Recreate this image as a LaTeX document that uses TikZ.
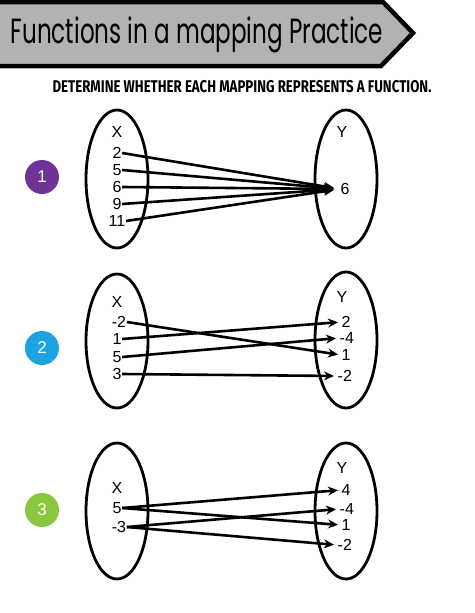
\documentclass[tikz,border=0pt]{standalone}
\usepackage{fontspec}
\setmainfont{Liberation Sans}
\newfontfamily\titolofont{Poppins}
\newfontfamily\consegnafont{Fira Sans}
\usetikzlibrary{arrows.meta}
\definecolor{grigiobanner}{RGB}{178,178,178}
\definecolor{viola}{RGB}{112,52,150}
\definecolor{azzurro}{RGB}{28,164,226}
\definecolor{verde}{RGB}{139,198,63}
\tikzset{
  valore/.style={inner sep=0.5pt, font=\fontsize{16}{16}\selectfont},
  freccia/.style={-{Stealth[length=10pt,width=9pt]}, line width=2.6pt, shorten >=3pt},
  numero/.style={circle, inner sep=0pt, minimum size=34pt, text=white, font=\fontsize{17}{17}\selectfont},
  insieme/.style={line width=2.8pt}
}
\begin{document}
\begin{tikzpicture}[x=1pt,y=-1pt]
    \useasboundingbox (0,0) rectangle (474,613);

    % Banner del titolo
    \draw[fill=grigiobanner, line width=4.5pt, line join=miter]
    (-5,2) -- (383,2) -- (413,33) -- (381,66) -- (-5,66) -- cycle;
    \node (titolo) at (197,35) {\titolofont\fontsize{35}{35}\selectfont\scalebox{0.66}[1]{Functions in a mapping Practice}};

    % Consegna
    \node (consegna) at (242,87) {\consegnafont\bfseries\fontsize{17}{17}\selectfont\scalebox{0.78}[1]{DETERMINE WHETHER EACH MAPPING REPRESENTS A FUNCTION.}};

    % Prima mappatura
    \node[numero, fill=viola] (n1) at (42,177) {1};
    \draw[insieme] (117,179) ellipse [x radius=31, y radius=69];
    \draw[insieme] (346,179) ellipse [x radius=31, y radius=69];
    \node[valore] (x1) at (117,132) {X};
    \node[valore] (y1) at (342,132) {Y};
    \foreach \v [count=\i] in {2,5,6,9,11}
        \node[valore] (a\i) at (117,136+17*\i) {\v};
    \node[valore] (b1) at (345,189) {6};
    \foreach \i in {1,...,5}
        \draw[freccia, shorten >=6pt] (a\i.east) -- (b1.west);

    % Seconda mappatura
    \node[numero, fill=azzurro] (n2) at (42,348) {2};
    \draw[insieme] (117,341) ellipse [x radius=31, y radius=67];
    \draw[insieme] (346,340) ellipse [x radius=31, y radius=68];
    \node[valore] (x2) at (117,302) {X};
    \node[valore] (y2) at (342,297) {Y};
    \node[valore] (c1) at (119,322) {-2};
    \node[valore] (c2) at (117,339) {1};
    \node[valore] (c3) at (117,357) {5};
    \node[valore] (c4) at (117,374) {3};
    \node[valore, anchor=west] (d1) at (341,322) {2};
    \node[valore, anchor=west] (d2) at (339,338) {-4};
    \node[valore, anchor=west] (d3) at (341,355) {1};
    \node[valore, anchor=west] (d4) at (337,376) {-2};
    \draw[freccia] (c1.east) -- (d3.west);
    \draw[freccia] (c2.east) -- (d1.west);
    \draw[freccia] (c3.east) -- (d2.west);
    \draw[freccia] (c4.east) -- (d4.west);

    % Terza mappatura
    \node[numero, fill=verde] (n3) at (42,510) {3};
    \draw[insieme] (117,511) ellipse [x radius=31, y radius=68];
    \draw[insieme] (346,511) ellipse [x radius=31, y radius=68];
    \node[valore] (x3) at (117,488) {X};
    \node[valore] (y3) at (342,468) {Y};
    \node[valore] (e1) at (117,508) {5};
    \node[valore] (e2) at (119,527) {-3};
    \node[valore, anchor=west] (f1) at (341,490) {4};
    \node[valore, anchor=west] (f2) at (339,509) {-4};
    \node[valore, anchor=west] (f3) at (341,525) {1};
    \node[valore, anchor=west] (f4) at (337,545) {-2};
    \draw[freccia] (e1.east) -- (f1.west);
    \draw[freccia] (e1.east) -- (f3.west);
    \draw[freccia] (e2.east) -- (f2.west);
    \draw[freccia] (e2.east) -- (f4.west);
\end{tikzpicture}
\end{document}
